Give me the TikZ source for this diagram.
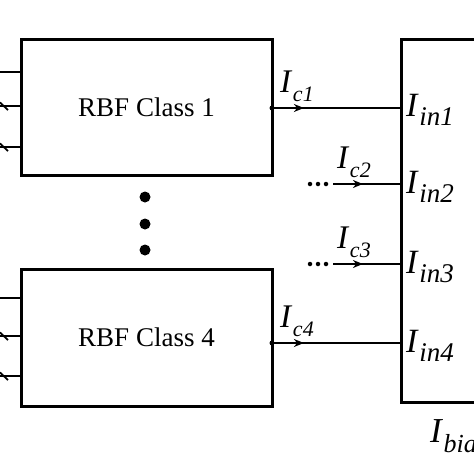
\documentclass[tikz,border=0pt]{standalone}
\usepackage{fontspec}
\setmainfont{Liberation Serif}
\usetikzlibrary{arrows.meta,decorations.markings}
\newcommand\curlab[3]{\textit{I}\kern0.5pt\raisebox{-#3}{\fontsize{#2}{#2}\selectfont\itshape #1}}
\begin{document}
\begin{tikzpicture}[x=1pt,y=-1pt,
  blockbox/.style={draw, line width=3pt, minimum width=251pt, minimum height=136pt, inner sep=0pt, font=\fontsize{27}{27}\selectfont},
  inwire/.style={line width=2pt},
  outwire/.style={line width=1.5pt, postaction={decorate}, decoration={markings, mark=at position #1 with {\arrow{Stealth[length=10pt,width=8pt]}}}},
  tick/.style={line width=1.8pt},
  bigdot/.style={circle, fill, inner sep=0pt, minimum size=11pt},
  smalldot/.style={circle, fill, inner sep=0pt, minimum size=4.5pt},
  joint/.style={circle, fill, inner sep=0pt, minimum size=5pt},
  lab/.style={anchor=base west, inner sep=0pt, font=\fontsize{33}{33}\selectfont},
  inlab/.style={anchor=base west, inner sep=0pt, font=\fontsize{34}{34}\selectfont}
]
\useasboundingbox (0,0) rectangle (474,474);
\fill[white] (0,0) rectangle (474,474);
% blocks
\node[blockbox] (b1) at (146.5,107) {RBF Class 1};
\node[blockbox, minimum height=137pt] (b4) at (146.5,337.5) {RBF Class 4};
\node[draw, line width=3pt, minimum width=160pt, minimum height=363pt, inner sep=0pt] (rb) at (481,220.5) {};
% dots between blocks
\node[bigdot] (d1) at (145,197) {};
\node[bigdot] (d2) at (145,224) {};
\node[bigdot] (d3) at (145,250) {};
% inputs block 1
\coordinate (i11) at (0,72);
\coordinate (i12) at (0,106);
\coordinate (i13) at (0,147);
\draw[inwire] (i11) -- (i11 -| b1.west);
\draw[inwire] (i12) -- (i12 -| b1.west);
\draw[inwire] (i13) -- (i13 -| b1.west);
\draw[tick] ([shift={(0,-3.5)}]i12) -- ([shift={(8,4)}]i12);
\draw[tick] ([shift={(0,-3.5)}]i13) -- ([shift={(8,4)}]i13);
% inputs block 4
\coordinate (i41) at (0,298);
\coordinate (i42) at (0,336);
\coordinate (i43) at (0,376);
\draw[inwire] (i41) -- (i41 -| b4.west);
\draw[inwire] (i42) -- (i42 -| b4.west);
\draw[inwire] (i43) -- (i43 -| b4.west);
\draw[tick] ([shift={(0,-3.5)}]i42) -- ([shift={(8,4)}]i42);
\draw[tick] ([shift={(0,-3.5)}]i43) -- ([shift={(8,4)}]i43);
% outputs
\node[joint] (o1) at (272,108) {};
\coordinate (e1) at (rb.west |- o1);
\draw[outwire=0.25] (o1.center) -- (e1);
\node[joint] (o4) at (272,343) {};
\coordinate (e4) at (rb.west |- o4);
\draw[outwire=0.25] (o4.center) -- (e4);
% dotted feeds
\node[smalldot] (p21) at (310,184) {};
\node[smalldot] (p22) at (318,184) {};
\node[smalldot] (p23) at (326,184) {};
\coordinate (s2) at (333,184);
\coordinate (e2) at (rb.west |- s2);
\draw[outwire=0.45] (s2) -- (e2);
\node[smalldot] (p31) at (310,264) {};
\node[smalldot] (p32) at (318,264) {};
\node[smalldot] (p33) at (326,264) {};
\coordinate (s3) at (333,264);
\coordinate (e3) at (rb.west |- s3);
\draw[outwire=0.45] (s3) -- (e3);
% labels
\node[lab] (lc1) at (280,92) {\curlab{c1}{22}{9pt}};
\node[lab] (lc2) at (337,168) {\curlab{c2}{22}{9pt}};
\node[lab] (lc3) at (337,248) {\curlab{c3}{22}{9pt}};
\node[lab] (lc4) at (280,327) {\curlab{c4}{22}{9pt}};
\node[inlab] (li1) at (406,116) {\curlab{in1}{27}{9.5pt}};
\node[inlab] (li2) at (406,193) {\curlab{in2}{27}{9.5pt}};
\node[inlab] (li3) at (406,273) {\curlab{in3}{27}{9.5pt}};
\node[inlab] (li4) at (406,352) {\curlab{in4}{27}{9.5pt}};
\node[anchor=base west, inner sep=0pt, font=\fontsize{35}{35}\selectfont] (lb) at (430,442) {\curlab{bias}{26}{10pt}};
\end{tikzpicture}
\end{document}
